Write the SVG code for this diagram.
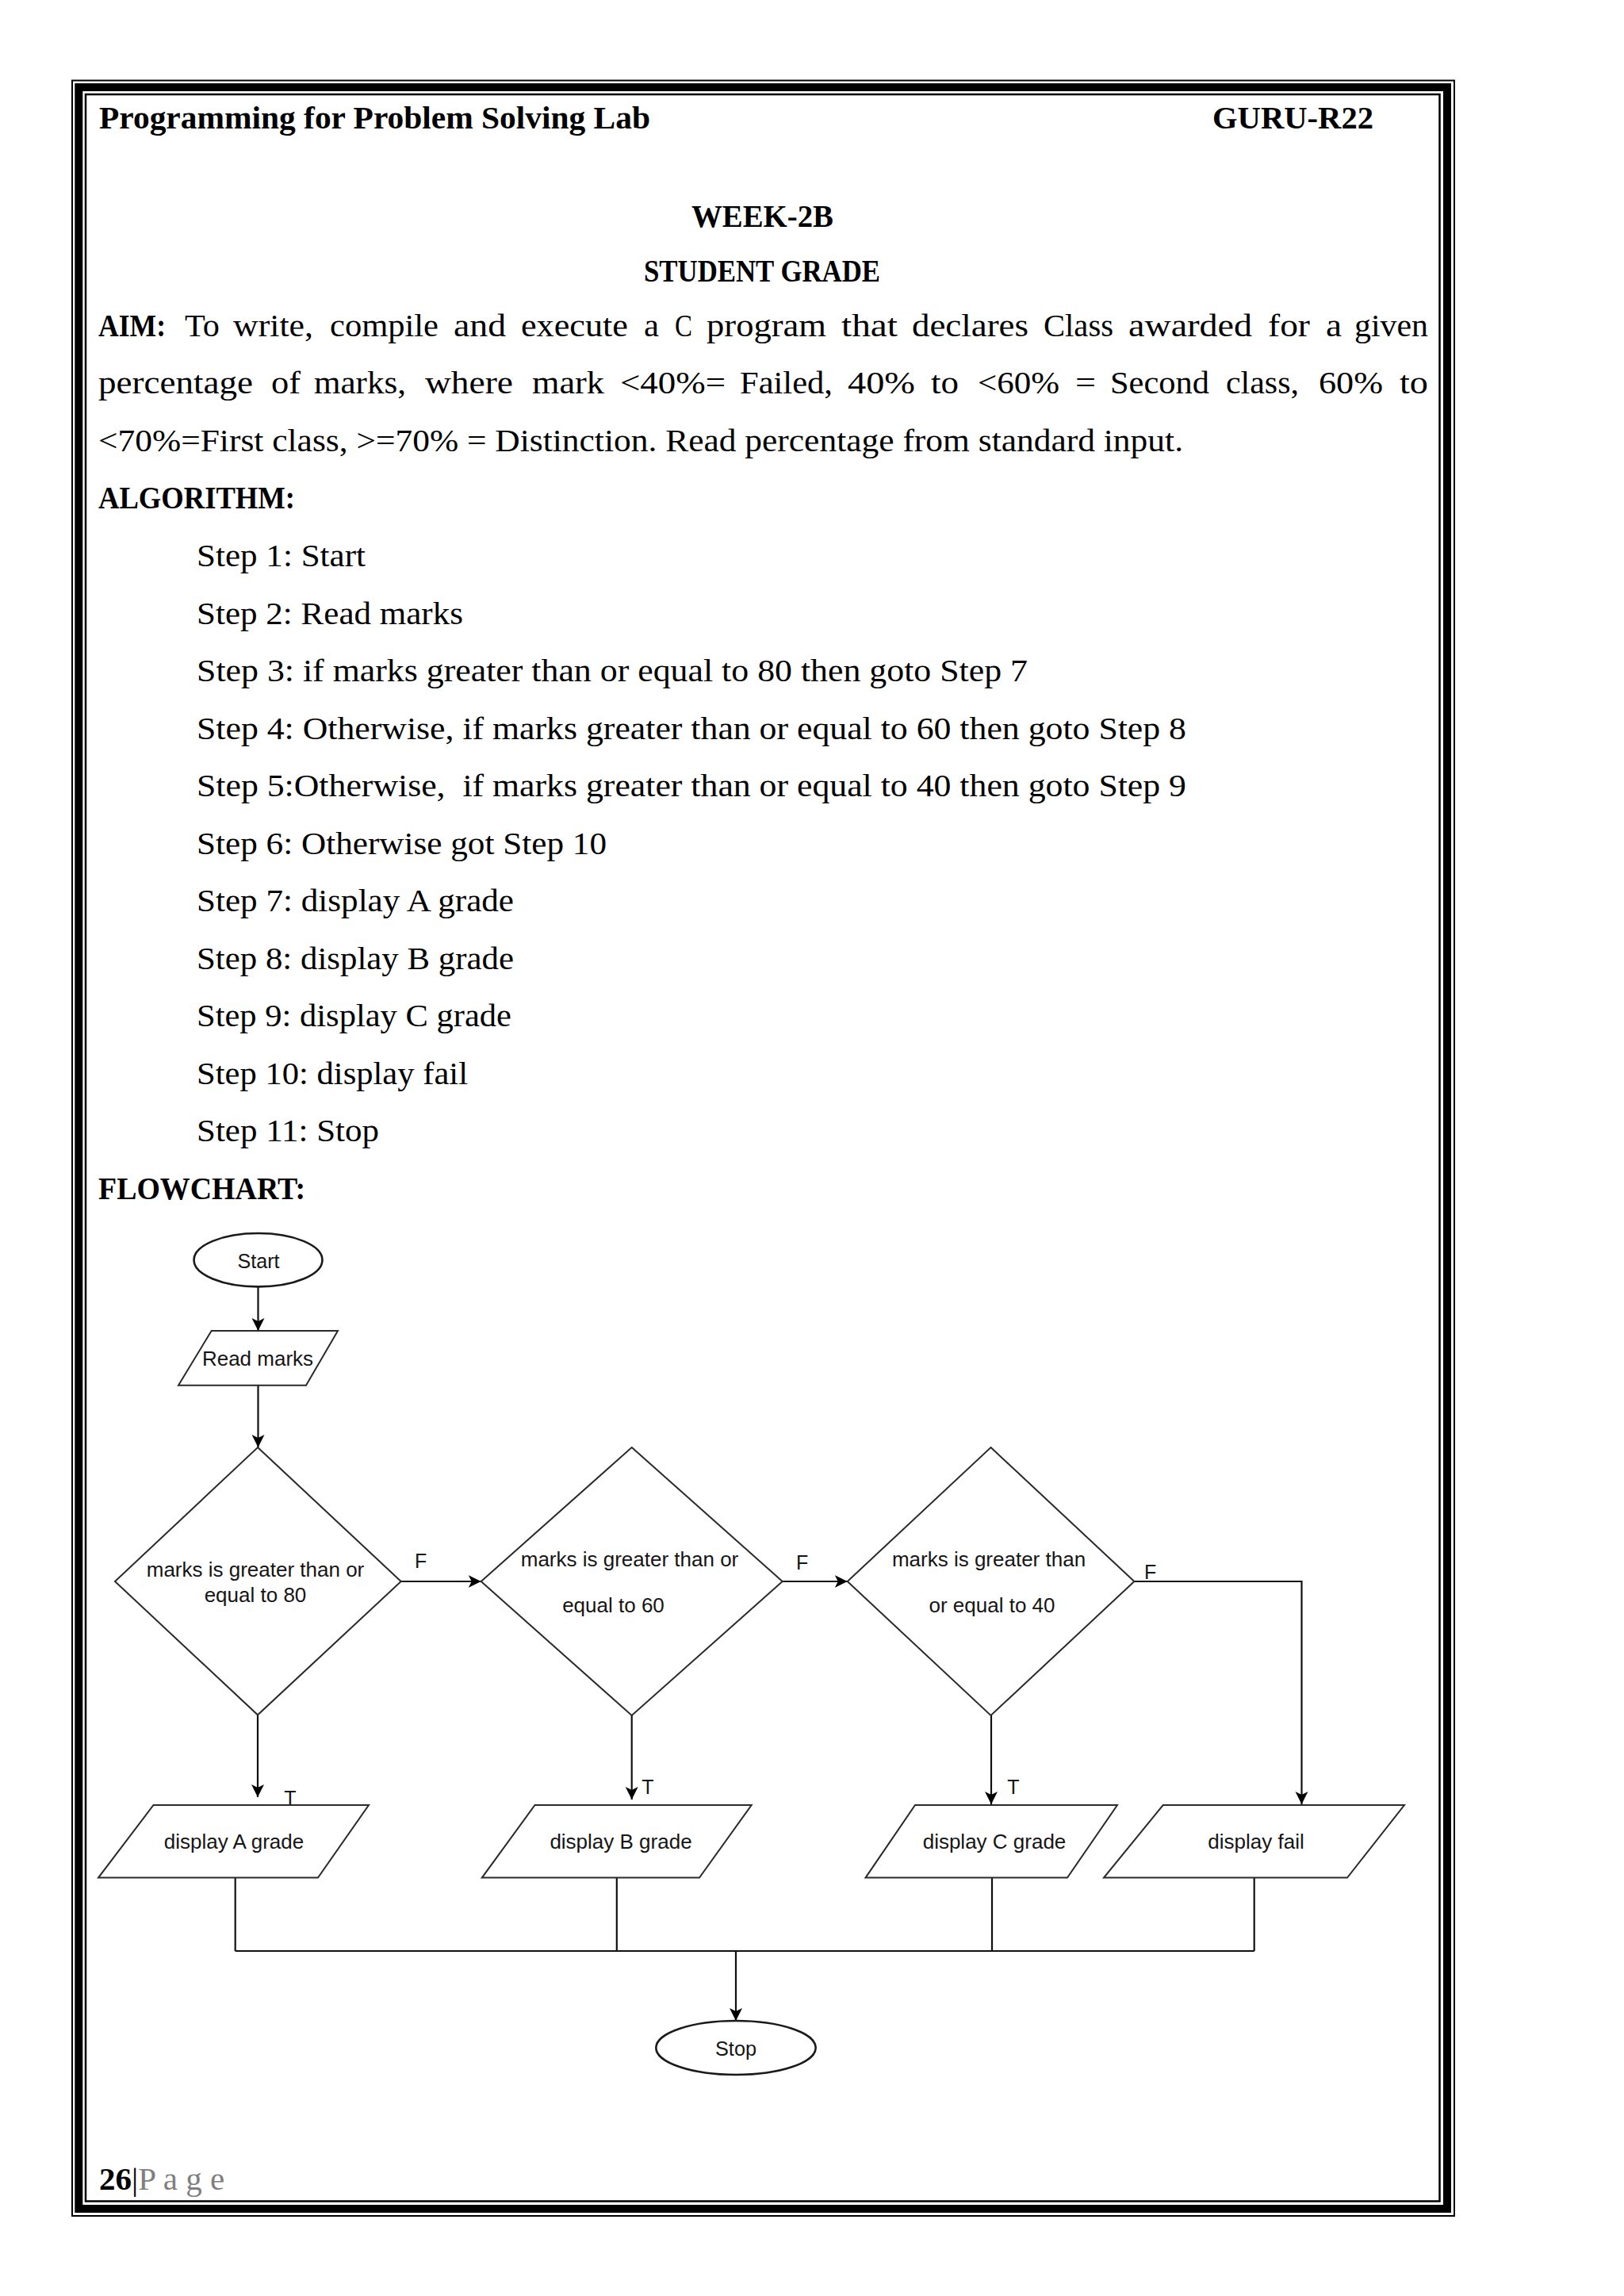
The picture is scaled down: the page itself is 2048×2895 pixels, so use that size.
<svg xmlns="http://www.w3.org/2000/svg" width="2048" height="2895" viewBox="0 0 2048 2895">
<style>
.hdr{font-family:"Liberation Serif","Times New Roman",serif;font-weight:bold;font-size:41px;fill:#000}
.body{font-family:"Liberation Serif","Times New Roman",serif;font-size:41px;fill:#000}
.bold{font-weight:bold}
.fc{font-family:"Liberation Sans",Arial,sans-serif;font-size:26px;fill:#151515}
.lbl{font-family:"Liberation Sans",Arial,sans-serif;font-size:25px;fill:#151515}
.shape{fill:#fff;stroke:#2a2a2a;stroke-width:2}
.term{fill:#fff;stroke:#1a1a1a;stroke-width:2.6}
.conn{fill:none;stroke:#111;stroke-width:2.2}
</style>
<defs>
<marker id="arr" markerUnits="userSpaceOnUse" markerWidth="16" markerHeight="20" viewBox="0 0 16 20" refX="16" refY="10" orient="auto">
<path d="M0,2 L16,10 L0,18 L4,10 Z" fill="#000"/>
</marker>
</defs>
<rect width="2048" height="2895" fill="#fff"/>
<g id="frame" fill="none" stroke="#000">
<rect x="91" y="101.5" width="1743" height="2692.5" stroke-width="2"/>
<rect x="99.3" y="110" width="1725.7" height="2675" stroke-width="10"/>
<rect x="108" y="119" width="1707.5" height="2656.5" stroke-width="2.5"/>
</g>
<g id="header">
<text class="hdr" x="125" y="162" textLength="695" lengthAdjust="spacingAndGlyphs">Programming for Problem Solving Lab</text>
<text class="hdr" x="1529" y="162" textLength="203" lengthAdjust="spacingAndGlyphs">GURU-R22</text>
</g>
<g id="title">
<text class="body bold" x="872" y="286" font-size="40" textLength="179" lengthAdjust="spacingAndGlyphs">WEEK-2B</text>
<text class="body bold" x="812" y="355" font-size="37" textLength="298" lengthAdjust="spacingAndGlyphs">STUDENT GRADE</text>
</g>
<g id="aim">
<text class="body bold" x="124" y="423.5" textLength="85" lengthAdjust="spacingAndGlyphs">AIM:</text>
<text class="body" x="233" y="423.5" textLength="44" lengthAdjust="spacingAndGlyphs">To</text>
<text class="body" x="294" y="423.5" textLength="101" lengthAdjust="spacingAndGlyphs">write,</text>
<text class="body" x="416" y="423.5" textLength="137" lengthAdjust="spacingAndGlyphs">compile</text>
<text class="body" x="572" y="423.5" textLength="66" lengthAdjust="spacingAndGlyphs">and</text>
<text class="body" x="657" y="423.5" textLength="135" lengthAdjust="spacingAndGlyphs">execute</text>
<text class="body" x="812" y="423.5" textLength="19" lengthAdjust="spacingAndGlyphs">a</text>
<text class="body" x="851" y="423.5" textLength="22" lengthAdjust="spacingAndGlyphs">C</text>
<text class="body" x="891" y="423.5" textLength="151" lengthAdjust="spacingAndGlyphs">program</text>
<text class="body" x="1061" y="423.5" textLength="71" lengthAdjust="spacingAndGlyphs">that</text>
<text class="body" x="1150" y="423.5" textLength="147" lengthAdjust="spacingAndGlyphs">declares</text>
<text class="body" x="1316" y="423.5" textLength="88" lengthAdjust="spacingAndGlyphs">Class</text>
<text class="body" x="1423" y="423.5" textLength="156" lengthAdjust="spacingAndGlyphs">awarded</text>
<text class="body" x="1599" y="423.5" textLength="53" lengthAdjust="spacingAndGlyphs">for</text>
<text class="body" x="1672" y="423.5" textLength="20" lengthAdjust="spacingAndGlyphs">a</text>
<text class="body" x="1708" y="423.5" textLength="93" lengthAdjust="spacingAndGlyphs">given</text>
<text class="body" x="124" y="496" textLength="195" lengthAdjust="spacingAndGlyphs">percentage</text>
<text class="body" x="342" y="496" textLength="37" lengthAdjust="spacingAndGlyphs">of</text>
<text class="body" x="396" y="496" textLength="116" lengthAdjust="spacingAndGlyphs">marks,</text>
<text class="body" x="536" y="496" textLength="111" lengthAdjust="spacingAndGlyphs">where</text>
<text class="body" x="671" y="496" textLength="91" lengthAdjust="spacingAndGlyphs">mark</text>
<text class="body" x="782" y="496" textLength="133" lengthAdjust="spacingAndGlyphs">&lt;40%=</text>
<text class="body" x="933" y="496" textLength="117" lengthAdjust="spacingAndGlyphs">Failed,</text>
<text class="body" x="1069" y="496" textLength="85" lengthAdjust="spacingAndGlyphs">40%</text>
<text class="body" x="1174" y="496" textLength="35" lengthAdjust="spacingAndGlyphs">to</text>
<text class="body" x="1233" y="496" textLength="103" lengthAdjust="spacingAndGlyphs">&lt;60%</text>
<text class="body" x="1356" y="496" textLength="26" lengthAdjust="spacingAndGlyphs">=</text>
<text class="body" x="1400" y="496" textLength="125" lengthAdjust="spacingAndGlyphs">Second</text>
<text class="body" x="1546" y="496" textLength="92" lengthAdjust="spacingAndGlyphs">class,</text>
<text class="body" x="1663" y="496" textLength="81" lengthAdjust="spacingAndGlyphs">60%</text>
<text class="body" x="1765" y="496" textLength="36" lengthAdjust="spacingAndGlyphs">to</text>
<text class="body" x="124" y="568.5" textLength="1368" lengthAdjust="spacingAndGlyphs">&lt;70%=First class, &gt;=70% = Distinction. Read percentage from standard input.</text>
</g>
<g id="algorithm">
<text class="body bold" x="124" y="641" textLength="248" lengthAdjust="spacingAndGlyphs">ALGORITHM:</text>
<text class="body" x="248" y="714" textLength="213" lengthAdjust="spacingAndGlyphs">Step 1: Start</text>
<text class="body" x="248" y="786.5" textLength="336" lengthAdjust="spacingAndGlyphs">Step 2: Read marks</text>
<text class="body" x="248" y="859" textLength="1048" lengthAdjust="spacingAndGlyphs">Step 3: if marks greater than or equal to 80 then goto Step 7</text>
<text class="body" x="248" y="931.5" textLength="1248" lengthAdjust="spacingAndGlyphs">Step 4: Otherwise, if marks greater than or equal to 60 then goto Step 8</text>
<text class="body" x="248" y="1004" textLength="1248" lengthAdjust="spacingAndGlyphs" xml:space="preserve">Step 5:Otherwise,  if marks greater than or equal to 40 then goto Step 9</text>
<text class="body" x="248" y="1076.5" textLength="517" lengthAdjust="spacingAndGlyphs">Step 6: Otherwise got Step 10</text>
<text class="body" x="248" y="1149" textLength="400" lengthAdjust="spacingAndGlyphs">Step 7: display A grade</text>
<text class="body" x="248" y="1221.5" textLength="400" lengthAdjust="spacingAndGlyphs">Step 8: display B grade</text>
<text class="body" x="248" y="1294" textLength="397" lengthAdjust="spacingAndGlyphs">Step 9: display C grade</text>
<text class="body" x="248" y="1366.5" textLength="342" lengthAdjust="spacingAndGlyphs">Step 10: display fail</text>
<text class="body" x="248" y="1439" textLength="230" lengthAdjust="spacingAndGlyphs">Step 11: Stop</text>
<text class="body bold" x="124" y="1511.5" textLength="261" lengthAdjust="spacingAndGlyphs">FLOWCHART:</text>
</g>
<g id="connectors">
<line class="conn" x1="325.5" y1="1622.4" x2="325.5" y2="1678" marker-end="url(#arr)"/>
<line class="conn" x1="325.5" y1="1746.7" x2="325.5" y2="1825" marker-end="url(#arr)"/>
<line class="conn" x1="505.7" y1="1994" x2="606.7" y2="1994" marker-end="url(#arr)"/>
<line class="conn" x1="986.7" y1="1994" x2="1068.7" y2="1994" marker-end="url(#arr)"/>
<polyline class="conn" points="1430.4,1994 1641.5,1994 1641.5,2275" marker-end="url(#arr)"/>
<line class="conn" x1="325" y1="2162.3" x2="325" y2="2266" marker-end="url(#arr)"/>
<line class="conn" x1="796.7" y1="2163" x2="796.7" y2="2269" marker-end="url(#arr)"/>
<line class="conn" x1="1250" y1="2163" x2="1250" y2="2275" marker-end="url(#arr)"/>
<line class="conn" x1="296.7" y1="2367.6" x2="296.7" y2="2460"/>
<line class="conn" x1="777.8" y1="2367.6" x2="777.8" y2="2460"/>
<line class="conn" x1="1251" y1="2367.6" x2="1251" y2="2460"/>
<line class="conn" x1="1581.7" y1="2367.6" x2="1581.7" y2="2460"/>
<line class="conn" x1="296.7" y1="2460" x2="1581.7" y2="2460"/>
<line class="conn" x1="928" y1="2460" x2="928" y2="2548" marker-end="url(#arr)"/>
<text class="lbl" x="523" y="1977">F</text>
<text class="lbl" x="1004" y="1979">F</text>
<text class="lbl" x="1443" y="1991">F</text>
<text class="lbl" x="366" y="2276" text-anchor="middle">T</text>
<text class="lbl" x="817" y="2262" text-anchor="middle">T</text>
<text class="lbl" x="1278" y="2262" text-anchor="middle">T</text>
</g>
<g id="start">
<ellipse class="term" cx="325.5" cy="1588.7" rx="81" ry="33.7"/>
<text class="fc" x="326" y="1599" text-anchor="middle" font-size="27" textLength="53" lengthAdjust="spacingAndGlyphs">Start</text>
</g>
<g id="read">
<polygon class="shape" points="266.7,1678 426,1678 386,1746.7 225,1746.7"/>
<text class="fc" x="325" y="1722" text-anchor="middle" font-size="25">Read marks</text>
</g>
<g id="d80">
<polygon class="shape" points="325,1825 505.7,1994 325,2162.3 145,1994"/>
<text class="fc" x="322" y="1988" text-anchor="middle">marks is greater than or</text>
<text class="fc" x="322" y="2020" text-anchor="middle">equal to 80</text>
</g>
<g id="d60">
<polygon class="shape" points="796.7,1825 986.7,1994 796.7,2163 606.7,1994"/>
<text class="fc" x="794" y="1975" text-anchor="middle">marks is greater than or</text>
<text class="fc" x="773.5" y="2032.7" text-anchor="middle">equal to 60</text>
</g>
<g id="d40">
<polygon class="shape" points="1249.5,1825 1430.4,1994 1249.5,2163 1068.7,1994"/>
<text class="fc" x="1247" y="1975" text-anchor="middle">marks is greater than</text>
<text class="fc" x="1251" y="2032.7" text-anchor="middle">or equal to 40</text>
</g>
<g id="dispA">
<polygon class="shape" points="193.5,2276 465,2276 401,2367.6 124,2367.6"/>
<text class="fc" x="295" y="2331" text-anchor="middle">display A grade</text>
</g>
<g id="dispB">
<polygon class="shape" points="674.5,2276 947.7,2276 882,2367.6 607.8,2367.6"/>
<text class="fc" x="783" y="2331" text-anchor="middle">display B grade</text>
</g>
<g id="dispC">
<polygon class="shape" points="1154,2276 1409,2276 1346,2367.6 1091.5,2367.6"/>
<text class="fc" x="1254" y="2331" text-anchor="middle">display C grade</text>
</g>
<g id="dispF">
<polygon class="shape" points="1466.7,2276 1771,2276 1699,2367.6 1392,2367.6"/>
<text class="fc" x="1584" y="2331" text-anchor="middle">display fail</text>
</g>
<g id="stop">
<ellipse class="term" cx="928" cy="2582" rx="100.7" ry="34"/>
<text class="fc" x="928" y="2592" text-anchor="middle" font-size="27" textLength="52" lengthAdjust="spacingAndGlyphs">Stop</text>
</g>
<g id="footer">
<text class="body" x="125" y="2761"><tspan class="bold">26</tspan><tspan>|</tspan><tspan fill="#7f7f7f">P a g e</tspan></text>
</g>
</svg>
